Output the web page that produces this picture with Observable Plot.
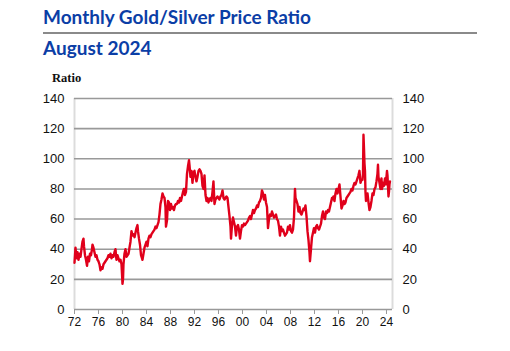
<!DOCTYPE html>
<html><head><meta charset="utf-8">
<script src="https://cdn.jsdelivr.net/npm/d3@7"></script>
<script src="https://cdn.jsdelivr.net/npm/@observablehq/plot@0.6"></script>
<style>
body{margin:0;background:#fff;}
#wrap{position:relative;width:510px;height:351px;overflow:hidden;background:#fff;}
#title{position:absolute;left:43px;top:5px;font:700 19px Lato,sans-serif;color:#0b3ea6;white-space:nowrap;}
#rule{position:absolute;left:43px;top:32px;width:434px;height:2px;background:#8a8a8a;}
#sub{position:absolute;left:43px;top:36px;font:700 19px Lato,sans-serif;color:#0b3ea6;white-space:nowrap;}
#ylab{position:absolute;left:52px;top:71px;font:700 12.5px "Liberation Serif","Times New Roman",serif;color:#111;}
#chart{position:absolute;left:0;top:0;}
</style></head>
<body>
<div id="wrap">
<div id="chart"></div>
<div id="title">Monthly Gold/Silver Price Ratio</div>
<div id="rule"></div>
<div id="sub">August 2024</div>
<div id="ylab">Ratio</div>
</div>
<script>
const titleText = "Monthly Gold/Silver Price Ratio";
const subtitleText = "August 2024";
const yLabel = "Ratio";
const xDomainYears = [1972, 2025];
const xTickYears = [1972,1976,1980,1984,1988,1992,1996,2000,2004,2008,2012,2016,2020,2024];
const yTicks = [0,20,40,60,80,100,120,140];
const series = [
["1972-01",31],["1972-03",41],["1972-05",34],["1972-07",38],["1972-09",33],["1972-11",37],
["1973-01",35],["1973-03",40],["1973-05",45],["1973-07",47],["1973-08",42],["1973-10",36],["1973-12",33],
["1974-01",31],["1974-02",29],["1974-04",35],["1974-06",32],["1974-08",37],["1974-10",36],["1974-12",40],
["1975-01",43],["1975-03",41],["1975-05",38],["1975-07",35],["1975-09",36],["1975-11",33],
["1976-01",32],["1976-03",30],["1976-05",26],["1976-07",28],["1976-09",27],["1976-11",30],
["1977-01",31],["1977-03",32],["1977-05",33],["1977-07",34],["1977-09",36],["1977-11",35],
["1978-01",37],["1978-03",34],["1978-05",36],["1978-07",35],["1978-09",38],["1978-11",40],["1978-12",36],
["1979-01",33],["1979-03",36],["1979-05",34],["1979-07",32],["1979-09",33],["1979-11",30],["1979-12",24],
["1980-01",17],["1980-02",20],["1980-03",30],["1980-05",37],["1980-07",40],["1980-09",35],["1980-11",36],
["1981-01",37],["1981-03",41],["1981-05",45],["1981-07",52],["1981-09",49],["1981-11",50],
["1982-01",48],["1982-03",51],["1982-05",54],["1982-07",56],["1982-08",52],["1982-10",47],["1982-12",43],
["1983-02",36],["1983-04",34],["1983-05",33],["1983-07",37],["1983-09",41],["1983-11",43],
["1984-01",45],["1984-03",42],["1984-05",47],["1984-07",49],["1984-09",48],["1984-11",50],
["1985-01",51],["1985-03",52],["1985-05",53],["1985-07",55],["1985-09",54],["1985-11",56],
["1986-01",58],["1986-03",63],["1986-05",70],["1986-07",73],["1986-09",77],["1986-11",75],
["1987-01",74],["1987-03",68],["1987-04",55],["1987-06",59],["1987-08",72],["1987-10",71],["1987-12",66],
["1988-02",70],["1988-04",67],["1988-06",68],["1988-08",66],["1988-10",69],["1988-12",70],
["1989-02",70],["1989-04",72],["1989-06",71],["1989-08",74],["1989-10",72],["1989-12",75],
["1990-02",78],["1990-04",80],["1990-06",76],["1990-08",78],["1990-10",90],["1990-12",95],
["1991-02",99],["1991-03",96],["1991-05",88],["1991-07",92],["1991-09",84],["1991-11",91],
["1992-01",92],["1992-03",88],["1992-05",85],["1992-07",88],["1992-09",92],["1992-11",93],
["1993-01",92],["1993-03",90],["1993-05",82],["1993-07",80],["1993-09",89],["1993-11",76],
["1994-01",72],["1994-03",74],["1994-05",71],["1994-07",73],["1994-09",74],["1994-11",72],
["1995-01",78],["1995-03",85],["1995-05",70],["1995-07",73],["1995-09",74],["1995-11",75],
["1996-01",74],["1996-03",73],["1996-05",75],["1996-07",76],["1996-09",79],["1996-11",74],
["1997-01",73],["1997-03",74],["1997-05",75],["1997-07",74],["1997-09",68],["1997-11",62],
["1998-01",55],["1998-02",47],["1998-04",56],["1998-06",61],["1998-08",58],["1998-10",55],["1998-12",49],
["1999-02",55],["1999-04",56],["1999-06",53],["1999-08",47],["1999-10",52],["1999-12",56],
["2000-02",55],["2000-04",57],["2000-06",56],["2000-08",57],["2000-10",58],["2000-12",59],
["2001-02",61],["2001-04",62],["2001-06",60],["2001-08",63],["2001-10",66],["2001-12",64],
["2002-02",66],["2002-04",67],["2002-06",69],["2002-08",68],["2002-10",71],["2002-12",72],
["2003-02",74],["2003-04",79],["2003-06",77],["2003-08",73],["2003-10",76],["2003-12",71],
["2004-02",68],["2004-04",54],["2004-06",60],["2004-08",63],["2004-10",62],["2004-12",65],
["2005-02",63],["2005-04",61],["2005-06",62],["2005-08",63],["2005-10",60],["2005-12",59],
["2006-02",55],["2006-04",49],["2006-06",55],["2006-08",52],["2006-10",53],["2006-12",51],
["2007-02",49],["2007-04",50],["2007-06",51],["2007-08",55],["2007-10",53],["2007-12",56],
["2008-02",52],["2008-04",51],["2008-06",53],["2008-08",61],["2008-10",80],["2008-11",74],
["2009-01",72],["2009-03",70],["2009-05",65],["2009-07",68],["2009-09",64],["2009-11",63],
["2010-01",65],["2010-03",67],["2010-05",66],["2010-07",69],["2010-09",62],["2010-11",52],
["2011-01",46],["2011-03",38],["2011-04",32],["2011-06",40],["2011-08",48],["2011-10",51],["2011-12",54],
["2012-02",51],["2012-04",55],["2012-06",56],["2012-08",54],["2012-10",53],["2012-12",55],
["2013-02",57],["2013-04",62],["2013-06",65],["2013-08",61],["2013-10",60],["2013-12",65],
["2014-02",64],["2014-04",66],["2014-06",65],["2014-08",68],["2014-10",71],["2014-12",74],
["2015-01",73],["2015-03",75],["2015-05",72],["2015-07",77],["2015-09",80],["2015-11",77],
["2016-01",80],["2016-03",83],["2016-05",75],["2016-07",67],["2016-09",69],["2016-11",72],
["2017-01",70],["2017-03",71],["2017-05",74],["2017-07",75],["2017-09",76],["2017-11",77],
["2018-01",78],["2018-03",80],["2018-05",79],["2018-07",82],["2018-09",84],["2018-11",83],
["2019-01",85],["2019-03",87],["2019-05",89],["2019-07",92],["2019-09",84],["2019-11",86],
["2020-01",86],["2020-02",90],["2020-03",116],["2020-04",107],["2020-05",97],["2020-06",92],["2020-07",78],["2020-08",72],["2020-09",75],["2020-11",77],
["2021-01",71],["2021-03",66],["2021-05",68],["2021-07",72],["2021-09",77],["2021-11",76],
["2022-01",80],["2022-03",81],["2022-05",85],["2022-07",90],["2022-08",96],["2022-09",88],["2022-11",84],
["2023-01",80],["2023-03",87],["2023-04",80],["2023-06",84],["2023-08",82],["2023-10",87],["2023-12",83],
["2024-01",88],["2024-02",92],["2024-03",89],["2024-05",75],["2024-06",78],["2024-07",83],["2024-08",85]
];

const parse = d3.utcParse("%Y-%m");
const data = series.map(([m, v]) => ({date: parse(m), ratio: v}));
const yr = y => new Date(Date.UTC(y, 0, 1));
const xDomain = xDomainYears.map(yr);
const xTicks = xTickYears.map(yr);

document.getElementById("title").textContent = titleText;
document.getElementById("sub").textContent = subtitleText;
document.getElementById("ylab").textContent = yLabel;

const chart = Plot.plot({
  width: 510, height: 351,
  marginLeft: 74, marginRight: 118, marginTop: 98, marginBottom: 42,
  x: {type: "utc", domain: xDomain},
  y: {domain: [0, 140]},
  style: {fontFamily: "'Liberation Sans', Arial, sans-serif", fontSize: "13px", color: "#111", background: "transparent"},
  marks: [
    Plot.ruleX(xDomain, {stroke: "#dcdcdc", strokeWidth: 2, y1: 0, y2: 140}),
    Plot.ruleY(yTicks, {stroke: "#999", strokeWidth: 1.6}),
    Plot.axisY({anchor: "left", ticks: yTicks, tickSize: 0, tickPadding: 10, label: null}),
    Plot.axisY({anchor: "right", ticks: yTicks, tickSize: 0, tickPadding: 10, label: null}),
    Plot.axisX({ticks: xTicks, tickFormat: d3.utcFormat("%y"), tickSize: 5, tickPadding: 3, stroke: "#999", label: null, fontSize: 12}),
    Plot.line(data, {x: "date", y: "ratio", stroke: "#e0001b", strokeWidth: 2.4})
  ]
});
document.getElementById("chart").appendChild(chart);
</script>
</body></html>
